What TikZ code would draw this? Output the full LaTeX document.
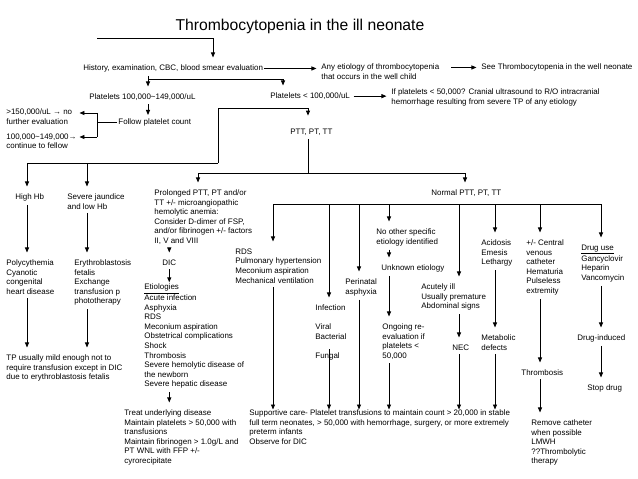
\documentclass[tikz,border=0pt]{standalone}
\usepackage{fontspec}
\setmainfont{Liberation Sans}
\usetikzlibrary{arrows.meta,positioning}
\tikzset{
  chart text/.style={
    anchor=north west, align=left, inner xsep=1pt, inner ysep=3pt,
    font=\fontsize{6.8pt}{8.2pt}\selectfont
  },
  chart line/.style={line width=0.75pt},
  chart arrow/.style={chart line, -{Triangle[length=1.5mm,width=1.2mm]}, shorten >=3pt},
  into support/.style={chart arrow, shorten >=-3pt}
}

\begin{document}
\begin{tikzpicture}[x=0.03cm, y=-0.03cm]
    \useasboundingbox (0,0) rectangle (638,479);
    \node[font=\fontsize{13.4pt}{16pt}\selectfont, inner sep=0pt] (title) at (300,26) {Thrombocytopenia in the ill neonate};
    \node[chart text] (hist) at (82,61) {History, examination, CBC, blood smear evaluation};
    \node[chart text] (anyet) at (320,60) {Any etiology of thrombocytopenia\\that occurs in the well child};
    \node[chart text] (seewell) at (480,60) {See Thrombocytopenia in the well neonate};
    \node[chart text] (plata) at (88,90) {Platelets 100,000\textasciitilde149,000/uL};
    \node[chart text] (platb) at (269,89) {Platelets < 100,000/uL};
    \node[chart text] (ifplat) at (390,85) {If platelets < 50,000? Cranial ultrasound to R/O intracranial\\hemorrhage resulting from severe TP of any etiology};
    \node[chart text] (follow) at (117,115) {Follow platelet count};
    \node[chart text] (nofurther) at (5,105) {>150,000/uL → no\\further evaluation};
    \node[chart text] (contfollow) at (5,130) {100,000\textasciitilde149,000→\\continue to fellow};
    \node[chart text] (ptt) at (289,125) {PTT, PT, TT};
    \node[chart text] (highhb) at (14,190) {High Hb};
    \node[chart text] (jaundice) at (66,190) {Severe jaundice\\and low Hb};
    \node[chart text] (prolonged) at (153,186) {Prolonged PTT, PT and/or\\TT +/- microangiopathic\\hemolytic anemia:\\Consider D-dimer of FSP,\\and/or fibrinogen +/- factors\\II, V and VIII};
    \node[chart text] (dic) at (161,256) {DIC};
    \node[chart text] (etiologies) at (143,280) {\underline{Etiologies}\\Acute infection\\Asphyxia\\RDS\\Meconium aspiration\\Obstetrical complications\\Shock\\Thrombosis\\Severe hemolytic disease of\\the newborn\\Severe hepatic disease};
    \node[chart text] (treat) at (123,406) {Treat underlying disease\\Maintain platelets > 50,000 with\\transfusions\\Maintain fibrinogen > 1.0g/L and\\PT WNL with FFP +/-\\cyrorecipitate};
    \node[chart text] (polycyth) at (5,256) {Polycythemia\\Cyanotic\\congenital\\heart disease};
    \node[chart text] (erythro) at (73,256) {Erythroblastosis\\fetalis\\Exchange\\transfusion p\\phototherapy};
    \node[chart text] (tpmild) at (5,351) {TP usually mild enough not to\\require transfusion except in DIC\\due to erythroblastosis fetalis};
    \node[chart text] (normal) at (430,186) {Normal PTT, PT, TT};
    \node[chart text] (rds) at (234,245) {RDS\\Pulmonary hypertension\\Meconium aspiration\\Mechanical ventilation};
    \node[chart text] (infection) at (314,301) {Infection};
    \node[chart text] (viral) at (314,320) {Viral\\Bacterial};
    \node[chart text] (fungal) at (314,349) {Fungal};
    \node[chart text] (perinatal) at (344,275) {Perinatal\\asphyxia};
    \node[chart text] (noother) at (375,225) {No other specific\\etiology identified};
    \node[chart text] (unknown) at (380,261) {Unknown etiology};
    \node[chart text] (ongoing) at (381,320) {Ongoing re-\\evaluation if\\platelets <\\50,000};
    \node[chart text] (acutely) at (420,280) {Acutely ill\\Usually premature\\Abdominal signs};
    \node[chart text] (nec) at (451,341) {NEC};
    \node[chart text] (acidosis) at (480,236) {Acidosis\\Emesis\\Lethargy};
    \node[chart text] (metabolic) at (480,331) {Metabolic\\defects};
    \node[chart text] (central) at (525,236) {+/- Central\\venous\\catheter\\Hematuria\\Pulseless\\extremity};
    \node[chart text] (thrombosis) at (520,366) {Thrombosis};
    \node[chart text] (removecath) at (530,416) {Remove catheter\\when possible\\LMWH\\??Thrombolytic\\therapy};
    \node[chart text] (druguse) at (580,241) {\underline{Drug use}\\Gancyclovir\\Heparin\\Vancomycin};
    \node[chart text] (druginduced) at (576,331) {Drug-induced};
    \node[chart text] (stopdrug) at (586,381) {Stop drug};
    \node[chart text] (supportive) at (248,406) {Supportive care- Platelet transfusions to maintain count > 20,000 in stable\\full term neonates, > 50,000 with hemorrhage, surgery, or more extremely\\preterm infants\\Observe for DIC};

    \coordinate (topstart) at (97,38);
    \coordinate (topbend) at (213,38);
    \coordinate (splitl) at (148,79);
    \coordinate (splitr) at (283,79);
    \coordinate (brtop) at (97,113);
    \coordinate (brbot) at (97,137);
    \coordinate (leftdrop) at (218,163);
    \coordinate (leftrise) at (218,108);
    \coordinate (pttbend) at (308,108);
    \coordinate (hbbranch) at (27,163);
    \coordinate (jbranch) at (87,163);
    \coordinate (pttdrop) at (308,173);
    \coordinate (prolbranch) at (198,173);
    \coordinate (normbranch) at (465,173);
    \coordinate (nrds) at (273,204);
    \coordinate (ninf) at (329,204);
    \coordinate (nper) at (359,204);
    \coordinate (nother) at (389,204);
    \coordinate (nacute) at (459,204);
    \coordinate (nacid) at (495,204);
    \coordinate (ncath) at (540,204);
    \coordinate (ndrug) at (601,204);

    \draw[chart arrow] (topstart) -- (topbend) -- (topbend |- hist.north);
    \draw[chart arrow] (hist.east) -- (hist.east -| anyet.west);
    \draw[chart arrow, shorten <=9pt] (anyet.east |- seewell.west) -- (seewell.west);
    \draw[chart line] (splitl |- hist.south) -- (splitl);
    \draw[chart arrow] (splitl) -- (splitl |- plata.north);
    \draw[chart arrow] (splitl) -- (splitr) -- (splitr |- platb.north);
    \draw[chart arrow, shorten <=2pt] (platb.east) -- (platb.east -| ifplat.west);
    \draw[chart arrow, shorten >=0pt] (splitl |- plata.south) -- (splitl |- follow.north);
    \draw[chart line] (follow.west) -- (follow.west -| brtop);
    \draw[chart line] (brtop) -- (brbot);
    \draw[chart arrow, shorten >=5pt] (brtop) -- (brtop -| nofurther.east);
    \draw[chart arrow, shorten >=5pt] (brbot) -- (brbot -| nofurther.east);

    \draw[chart arrow, shorten >=8pt] (leftdrop) -- (leftrise) -- (pttbend) -- (pttbend |- ptt.north);
    \draw[chart line] (hbbranch) -- (leftdrop);
    \draw[chart arrow] (hbbranch) -- (hbbranch |- highhb.north);
    \draw[chart arrow] (jbranch) -- (jbranch |- jaundice.north);
    \draw[chart arrow] (hbbranch |- highhb.south) -- (hbbranch |- polycyth.north);
    \draw[chart arrow] (jbranch |- jaundice.south) -- (jbranch |- erythro.north);
    \draw[chart arrow] (hbbranch |- polycyth.south) -- (hbbranch |- tpmild.north);
    \draw[chart arrow] (jbranch |- erythro.south) -- (jbranch |- tpmild.north);

    \draw[chart line] (pttbend |- ptt.south) -- (pttdrop);
    \draw[chart arrow] (pttdrop) -- (prolbranch) -- (prolbranch |- prolonged.north);
    \draw[chart arrow] (pttdrop) -- (normbranch) -- (normbranch |- normal.north);
    \draw[chart arrow] (dic.north |- prolonged.south) -- (dic.north);
    \draw[chart arrow, shorten >=-2pt] (dic.south) -- (dic.south |- etiologies.north);
    \draw[chart arrow] (dic.south |- etiologies.south) -- (dic.south |- treat.north);

    \draw[chart line] (nrds) -- (ndrug);
    \draw[chart arrow] (nrds) -- (nrds |- rds.north);
    \draw[chart arrow] (ninf) -- (ninf |- infection.north);
    \draw[chart arrow] (nper) -- (nper |- perinatal.north);
    \draw[chart arrow] (nother) -- (nother |- noother.north);
    \draw[chart arrow] (nacute) -- (nacute |- acutely.north);
    \draw[chart arrow] (nacid) -- (nacid |- acidosis.north);
    \draw[chart arrow] (ncath) -- (ncath |- central.north);
    \draw[chart arrow] (ndrug) -- (ndrug |- druguse.north);
    \draw[chart arrow] (nother |- noother.south) -- (nother |- unknown.north);
    \draw[chart arrow] (nother |- unknown.south) -- (nother |- ongoing.north);
    \draw[chart arrow] (nacute |- acutely.south) -- (nacute |- nec.north);
    \draw[chart arrow] (nacid |- acidosis.south) -- (nacid |- metabolic.north);
    \draw[chart arrow] (ncath |- central.south) -- (ncath |- thrombosis.north);
    \draw[chart arrow] (ncath |- thrombosis.south) -- (ncath |- removecath.north);
    \draw[chart arrow] (ndrug |- druguse.south) -- (ndrug |- druginduced.north);
    \draw[chart arrow] (ndrug |- druginduced.south) -- (ndrug |- stopdrug.north);
    \draw[into support] (nrds |- rds.south) -- (nrds |- supportive.north);
    \draw[into support] (ninf |- fungal.north) -- (ninf |- supportive.north);
    \draw[into support] (nper |- perinatal.south) -- (nper |- supportive.north);
    \draw[into support] (nother |- ongoing.south) -- (nother |- supportive.north);
    \draw[into support] (nacute |- nec.south) -- (nacute |- supportive.north);
    \draw[into support] (nacid |- metabolic.south) -- (nacid |- supportive.north);
  \end{tikzpicture}
\end{document}
